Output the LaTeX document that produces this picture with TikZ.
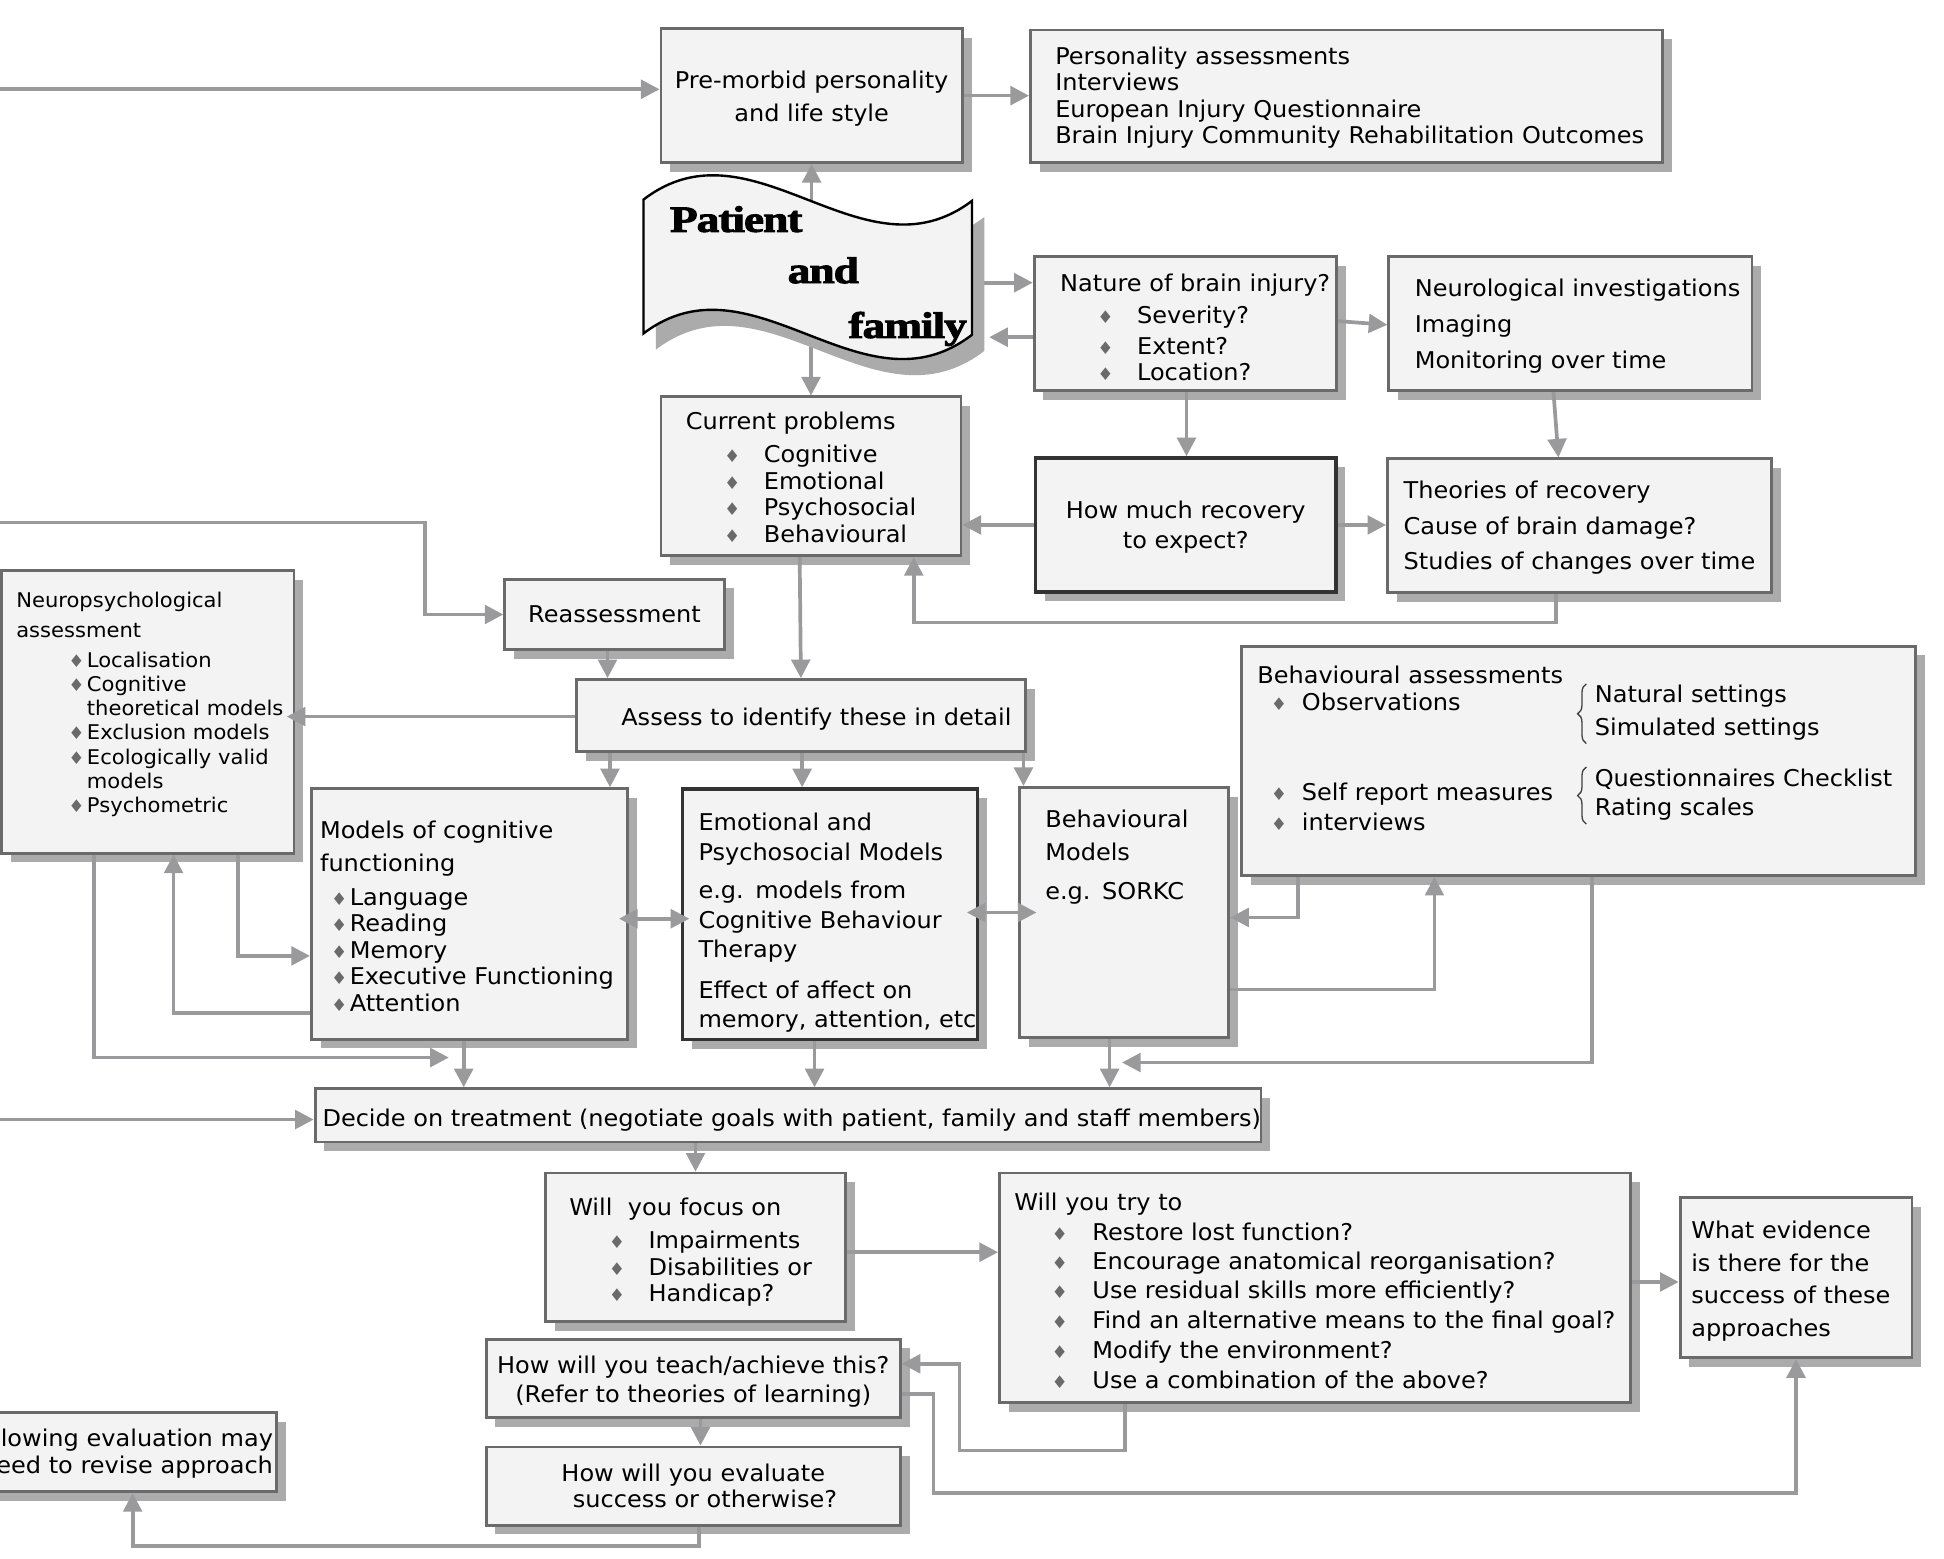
\documentclass[tikz,border=0pt]{standalone}
\usepackage{fontspec}
\setmainfont{DejaVu Sans}[FakeStretch=1.04]
\newfontfamily\bannerfont{Liberation Serif}[FakeStretch=1.23, FakeBold=2.5, LetterSpace=-3.0]
\usetikzlibrary{arrows.meta, shadows, decorations.pathreplacing}

\definecolor{boxfill}{HTML}{F2F3F2}
\definecolor{boxline}{HTML}{6A6A6A}
\definecolor{darkline}{HTML}{333333}
\definecolor{arrowgray}{HTML}{9A9A9C}
\definecolor{shadowgray}{HTML}{ABABAB}
\definecolor{bulletgray}{HTML}{6A6A6A}

\newlength{\gu}
\setlength{\gu}{0.02cm}
\newlength{\padlen}
\newcommand{\boxlines}[2][8]{\setlength{\padlen}{#1\gu}\addtolength{\padlen}{8.6pt}\begin{tabular}{@{}l@{}}\rule{0pt}{\padlen}#2\end{tabular}}
\newcommand{\dia}[2]{\hspace*{#1\gu}\makebox[#2\gu][l]{\textcolor{bulletgray}{\fontsize{8}{8}\selectfont ♦}}}

\tikzset{
	box/.style={draw = boxline, line width = 1.3pt, fill = boxfill, anchor = north west,
		inner ysep = 0pt, font = \fontsize{10.6}{12.2}\selectfont,
		drop shadow = {shadow xshift = 0.15cm, shadow yshift = -0.15cm, fill = shadowgray, opacity = 1}},
	darkbox/.style={draw = darkline, line width = 1.6pt},
	lbox/.style n args={3}{box, align = left, inner xsep = #1*0.02cm, text width = (#2-2*#1)*0.02cm, minimum height = #3*0.02cm},
	cbox/.style 2 args={box, align = center, minimum width = #1*0.02cm, minimum height = #2*0.02cm},
	txt/.style={font = \fontsize{10.6}{12.2}\selectfont, inner sep = 0pt},
	arr/.style={draw = arrowgray, line width = 1.7pt, -{Triangle[length = 0.3cm, width = 0.3cm]}},
	darr/.style={arr, {Triangle[length = 0.3cm, width = 0.3cm]}-{Triangle[length = 0.3cm, width = 0.3cm]}},
	brc/.style={draw = black!75, line width = 0.6pt, decorate, decoration = {brace, amplitude = 4pt}},
	banner/.style={draw = black, line width = 1.1pt, fill = boxfill,
		drop shadow = {shadow xshift = 0.2cm, shadow yshift = -0.26cm, fill = shadowgray, opacity = 1}}
}

\begin{document}
\begin{tikzpicture}[x = 0.02cm, y = -0.02cm]
	\useasboundingbox (0,0) rectangle (1568,1257);
	
	% top rows
	\node[cbox = {243}{108}] (pm) at (532,22) {\rule{0pt}{11pt}Pre-morbid personality\\[5.5\gu]and life style};
	\node[lbox = {20}{510}{107}] (pa) at (830,23) {\boxlines[4]{Personality assessments\\Interviews\\European Injury Questionnaire\\Brain Injury Community Rehabilitation Outcomes}};
	\node[lbox = {21}{244}{108}] (nat) at (833,206) {\boxlines[11]{Nature of brain injury?\\[4.5\gu]\dia{30}{32}Severity?\\[3.5\gu]\dia{30}{32}Extent?\\\dia{30}{32}Location?}};
	\node[lbox = {21}{293}{108}] (neu) at (1119,206) {\boxlines[6]{Neurological investigations\\[7.5\gu]Imaging\\[7.5\gu]Monitoring over time}};
	\node[lbox = {20}{242}{128}] (cur) at (532,319) {\boxlines[7]{Current problems\\[5.5\gu]\dia{31}{32}Cognitive\\\dia{31}{32}Emotional\\\dia{31}{32}Psychosocial\\\dia{31}{32}Behavioural}};
	\node[cbox = {242}{108}, darkbox] (hm) at (834,368) {\rule{0pt}{10pt}How much recovery\\[3\gu]to expect?};
	\node[lbox = {13}{310}{108}] (th) at (1118,369) {\boxlines[5]{Theories of recovery\\[7.5\gu]Cause of brain damage?\\[7\gu]Studies of changes over time}};
	
	% assessment
	\node[cbox = {177}{57}] (re) at (406,466) {Reassessment};
	\node[lbox = {12}{236}{228}, font = \fontsize{9.3}{11.1}\selectfont] (np) at (0,459) {\boxlines[2]{Neuropsychological\\[4.5\gu]assessment\\[4.5\gu]\dia{42}{15}Localisation\\\dia{42}{15}Cognitive\\\hspace*{57\gu}theoretical models\\\dia{42}{15}Exclusion models\\\dia{42}{15}Ecologically valid\\\hspace*{57\gu}models\\\dia{42}{15}Psychometric\\[14\gu]}};
	\node[lbox = {36}{362}{58}] (as) at (464,547) {\boxlines{Assess to identify these in detail}};
	\node[lbox = {13}{544}{185}] (ba) at (1000,520) {\boxlines[1]{Behavioural assessments\\[0.5\gu]\dia{11}{25}Observations\\[51.5\gu]\dia{11}{25}Self report measures\\[2.5\gu]\dia{11}{25}interviews\\[16\gu]}};
	\node[txt, anchor = base west] (obs) at (1286,567) {\begin{tabular}[t]{@{}l@{}}Natural settings\\[4.5\gu]Simulated settings\end{tabular}};
	\node[txt, anchor = base west] (self) at (1286,634) {\begin{tabular}[t]{@{}l@{}}Questionnaires Checklist\\[2.5\gu]Rating scales\end{tabular}};
	\draw[brc] ([xshift = -0.13cm]obs.south west) -- ([xshift = -0.13cm]obs.north west);
	\draw[brc] ([xshift = -0.13cm]self.south west) -- ([xshift = -0.13cm]self.north west);
	
	% models
	\node[lbox = {7}{255}{202}] (mc) at (250,635) {\boxlines[9]{Models of cognitive\\[5\gu]functioning\\[6\gu]\dia{9}{15}Language\\\dia{9}{15}Reading\\\dia{9}{15}Memory\\\dia{9}{15}Executive Functioning\\\dia{9}{15}Attention}};
	\node[lbox = {13}{238}{202}, darkbox] (em) at (549,635) {\boxlines[15]{Emotional and\\[2.5\gu]Psychosocial Models\\[9.5\gu]e.g. models from\\[2.5\gu]Cognitive Behaviour\\[2.5\gu]Therapy\\[11\gu]Effect of affect on\\[2\gu]memory, attention, etc}};
	\node[lbox = {21}{169}{202}] (bm) at (821,634) {\boxlines[2]{Behavioural\\[5.5\gu]Models\\[10.5\gu]e.g. SORKC\\[90\gu]}};
	
	% treatment
	\node[lbox = {6}{763}{43}] (dt) at (253,877) {\boxlines[10]{Decide on treatment (negotiate goals with patient, family and staff members)}};
	\node[lbox = {19}{242}{120}] (wf) at (439,945) {\boxlines[9]{Will\ \ you focus on\\[5.5\gu]\dia{32}{32}Impairments\\\dia{32}{32}Disabilities or\\\dia{32}{32}Handicap?}};
	\node[lbox = {12}{509}{185}] (wt) at (805,945) {\boxlines[10]{Will you try to\\[3\gu]\dia{30}{33}Restore lost function?\\[1.5\gu]\dia{30}{33}Encourage anatomical reorganisation?\\[2.5\gu]\dia{30}{33}Use residual skills more efficiently?\\[2.5\gu]\dia{30}{33}Find an alternative means to the final goal?\\[2.5\gu]\dia{30}{33}Modify the environment?\\[2.5\gu]\dia{30}{33}Use a combination of the above?}};
	\node[lbox = {9}{187}{129}] (we) at (1354,965) {\boxlines[7]{What evidence\\[5\gu]is there for the\\[5\gu]success of these\\[5\gu]approaches}};
	\node[cbox = {334}{63}] (ht) at (391,1079) {\rule{0pt}{11pt}How will you teach/achieve this?\\[1.5\gu](Refer to theories of learning)};
	\node[cbox = {334}{63}] (he) at (391,1166) {How will you evaluate\\\hspace*{19\gu}success or otherwise?};
	\node[box, align = right, inner xsep = 3*0.02cm, text width = 316*0.02cm, minimum height = 64*0.02cm] (fe) at (-100,1138) {\begin{tabular}{@{}r@{}}\rule{0pt}{11pt}llowing evaluation may\\eed to revise approach\end{tabular}};
	
	% banner anchor
	\node[inner sep = 0pt, minimum width = 276*0.02cm, minimum height = 150*0.02cm] (pf) at (659.5,216) {};
	
	% connectors
	\coordinate (inPM) at (0,72);
	\coordinate (inRE) at (0,421.5);
	\coordinate (inDT) at (0,903);
	\draw[arr] (inPM) -- (inPM -| pm.west);
	\draw[arr] (inRE) -| (343,0 |- re.west) -- (re.west);
	\draw[arr] (inDT) -- (inDT -| dt.west);
	\draw[arr] (pm.east) -- (pm.east -| pa.west);
	
	\draw[arr] (pm.south |- pf.center) -- (pm.south);
	\draw[arr] (cur.north |- pf.center) -- (cur.north);
	\draw[arr] (pf.center |- 0,228) -- (nat.west |- 0,228);
	\draw[arr] (nat.west |- 0,272) -- (pf.east |- 0,272);
	
	\draw[arr] (nat.east |- 0,259) -- (neu.west |- 0,262);
	\draw[arr] (957,0 |- nat.south) -- (957,0 |- hm.north);
	\draw[arr] (1253,0 |- neu.south) -- (1257,0 |- th.north);
	\draw[arr] (hm.west) -- (hm.west -| cur.east);
	\draw[arr] (hm.east) -- (hm.east -| th.west);
	\draw[arr] (1255,0 |- th.south) -- (1255,502) -| (737,0 |- cur.south);
	
	\draw[arr] (645,0 |- cur.south) -- (646,0 |- as.north);
	\draw[arr] (490,0 |- re.south) -- (490,0 |- as.north);
	\draw[arr, shorten >= -0.14cm] (as.west |- 0,578) -- (np.east |- 0,578);
	\draw[arr] (492,0 |- as.south) -- (492,0 |- mc.north);
	\draw[arr] (647,0 |- as.south) -- (647,0 |- em.north);
	\draw[arr] (825.5,0 |- as.south) -- (825.5,0 |- bm.north);
	
	\draw[arr] (192,0 |- np.south) |- (mc.west |- 0,771);
	\draw[arr] (mc.west |- 0,817) -| (140,0 |- np.south);
	\coordinate (npDT) at (362,853);
	\draw[arr] (76,0 |- np.south) |- (npDT);
	\draw[darr, shorten <= -0.16cm, shorten >= -0.14cm] (mc.east |- 0,741) -- (em.west |- 0,741);
	\draw[darr, shorten <= -0.2cm, shorten >= -0.3cm] (em.east |- 0,736) -- (bm.west |- 0,736);
	\draw[arr] (1047,0 |- ba.south) |- (bm.east |- 0,740);
	\draw[arr] (bm.east |- 0,798) -| (1157,0 |- ba.south);
	\coordinate (baDT) at (905,857);
	\draw[arr] (1284,0 |- ba.south) |- (baDT);
	
	\draw[arr] (374,0 |- mc.south) -- (374,0 |- dt.north);
	\draw[arr] (657,0 |- em.south) -- (657,0 |- dt.north);
	\draw[arr] (895,0 |- bm.south) -- (895,0 |- dt.north);
	
	\draw[arr] (561,0 |- dt.south) -- (561,0 |- wf.north);
	\draw[arr] (wf.east |- 0,1010) -- (wt.west |- 0,1010);
	\draw[arr] (wt.east |- 0,1034) -- (we.west |- 0,1034);
	\draw[arr] (907.5,0 |- wt.south) |- (774,1170) |- (ht.east |- 0,1100);
	\draw[arr] (ht.east |- 0,1124.5) -| (753,1204) -| (we.south);
	\draw[arr] (565,0 |- ht.south) -- (565,0 |- he.north);
	\draw[arr] (564,0 |- he.south) -- (564,1247) -| (107,0 |- fe.south);
	
	% patient and family
	\draw[banner] (519,161) .. controls (607.3,93) and (695.7,229) .. (784,162) -- (784,270) .. controls (695.7,338) and (607.3,202) .. (519,269) -- cycle;
	\node[anchor = base west, inner sep = 0pt, font = \bannerfont\bfseries\fontsize{17}{23.5}\selectfont] (pfname) at (540,187) {\begin{tabular}[t]{@{}l@{}}Patient\\\hspace*{95\gu}and\\[3\gu]\hspace*{144\gu}family\end{tabular}};
\end{tikzpicture}
\end{document}
